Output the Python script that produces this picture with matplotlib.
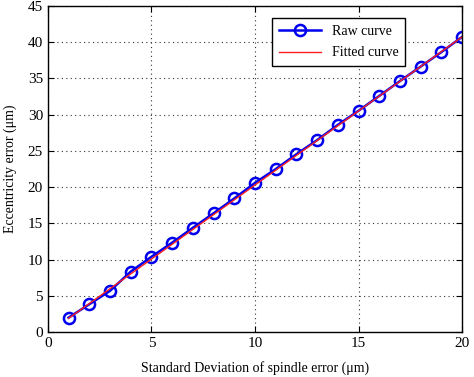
import numpy as np
import matplotlib.pyplot as plt

plt.rcParams['font.family'] = ['Liberation Serif', 'DejaVu Serif']

# data
std_dev = [1, 2, 3, 4, 5, 6, 7, 8, 9, 10, 11, 12, 13, 14, 15, 16, 17, 18, 19, 20]
ecc_raw = [2.0, 3.85, 5.7, 8.35, 10.4, 12.35, 14.4, 16.4, 18.45, 20.6,
           22.5, 24.55, 26.5, 28.6, 30.55, 32.6, 34.65, 36.65, 38.65, 40.75]
fit_x = [1, 20]
fit_y = [1.9, 40.75]

fig = plt.figure(figsize=(4.74, 3.77), dpi=100)
ax = fig.add_axes([0.101, 0.119, 0.874, 0.865])

ax.plot(std_dev, ecc_raw, color='#0000ee', lw=1.8, marker='o', ms=8,
        mfc='none', mec='#0000ee', mew=1.8, label='Raw curve')
ax.plot(fit_x, fit_y, color='#ff2020', lw=1.0, label='Fitted curve')

ax.set_xlim(0, 20)
ax.set_ylim(0, 45)
ax.set_xticks(np.arange(0, 21, 5))
ax.set_yticks(np.arange(0, 46, 5))
ax.grid(True, color='#333333', linestyle=(0, (1, 3)), linewidth=0.8)
ax.tick_params(direction='in', top=True, right=True, labelsize=11, length=4)
for s in ax.spines.values():
    s.set_linewidth(1.0)

ax.set_xlabel('Standard Deviation of spindle error (\u03bcm)', fontsize=10, labelpad=8)
ax.set_ylabel('Eccentricity error (\u03bcm)', fontsize=10, labelpad=8)

leg = ax.legend(loc='upper left', bbox_to_anchor=(0.541, 0.963), fontsize=10,
                fancybox=False, edgecolor='black', framealpha=1,
                handlelength=3.0, borderpad=0.5, labelspacing=0.6,
                borderaxespad=0)
leg.get_frame().set_linewidth(1.0)

fig.savefig('out.png', dpi=100)
